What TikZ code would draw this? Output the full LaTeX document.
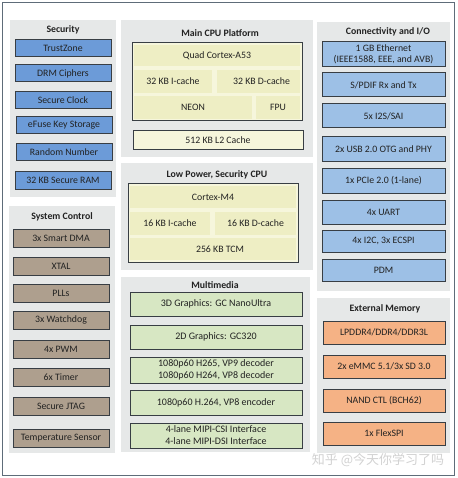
\documentclass[tikz,border=0pt]{standalone}
\usepackage{fontspec}
\setmainfont{Carlito}
\newfontfamily\cjk{Noto Sans CJK SC}
\definecolor{panelc}{HTML}{E6E8E8}
\definecolor{bordc}{HTML}{383E44}
\definecolor{txt}{HTML}{222222}
\definecolor{secblue}{HTML}{6C9BD8}
\definecolor{conblue}{HTML}{9DC0E6}
\definecolor{brownc}{HTML}{AE9F8E}
\definecolor{greenc}{HTML}{D7E7C3}
\definecolor{orangec}{HTML}{F5B285}
\definecolor{yelbg}{HTML}{F6F6DC}
\definecolor{yelcell}{HTML}{EEEEC4}
\definecolor{outerc}{HTML}{5E6C79}
\definecolor{wmark}{HTML}{D2D2D2}
\begin{document}
\begin{tikzpicture}[x=1pt,y=-1pt,
  every node/.style={font=\fontsize{9.8}{11.5}\selectfont, text=txt, inner sep=0pt, align=center},
  panel/.style={fill=panelc, draw=none},
  ptitle/.style={font=\bfseries\fontsize{9.8}{11.5}\selectfont},
  blk/.style={draw=bordc, line width=1pt},
  secbox/.style={blk, fill=secblue, minimum width=96pt, minimum height=17pt},
  sysbox/.style={blk, fill=brownc, minimum width=96pt, minimum height=18pt},
  conbox/.style={blk, fill=conblue, minimum width=123pt},
  membox/.style={blk, fill=orangec, minimum width=122pt, minimum height=23pt},
  mmbox/.style={blk, fill=greenc, minimum width=172pt, font=\fontsize{10}{12}\selectfont},
  cpubox/.style={blk, fill=yelbg, minimum width=170pt},
  cell/.style={fill=yelcell, draw=none}
]
\useasboundingbox (0,0) rectangle (457,478);
\fill[white] (0,0) rectangle (457,478);
\draw[outerc, line width=1.6pt] (2.5,2.5) rectangle (454.5,475.5);

% ---------- Security
\node[panel, minimum width=106pt, minimum height=177pt] (secP) at (63,108.5) {};
\node[ptitle] (secT) at (63,30) {Security};
\node[secbox] (tz)  at (63,48.5)  {TrustZone};
\node[secbox] (drm) at (63,73.5)  {DRM Ciphers};
\node[secbox] (sclk) at (63,100.5) {Secure Clock};
\node[secbox] (efuse) at (64,125.5) {eFuse Key Storage};
\node[secbox] (rnd) at (64,152.5) {Random Number};
\node[secbox] (sram) at (63,180.5) {32 KB Secure RAM};

% ---------- System Control
\node[panel, minimum width=106pt, minimum height=247pt] (sysP) at (62,329.5) {};
\node[ptitle] (sysT) at (62,217) {System Control};
\node[sysbox] (dma)  at (61,238)   {3x Smart DMA};
\node[sysbox] (xtal) at (61,266)   {XTAL};
\node[sysbox] (pll)  at (61,293)   {PLLs};
\node[sysbox] (wdog) at (61,320)   {3x Watchdog};
\node[sysbox] (pwm)  at (61,349)   {4x PWM};
\node[sysbox] (tmr)  at (61,377.5) {6x Timer};
\node[sysbox] (jtag) at (61,406.5) {Secure JTAG};
\node[sysbox] (temp) at (61,438)   {Temperature Sensor};

% ---------- Main CPU Platform
\node[panel, minimum width=192pt, minimum height=137pt] (cpuP) at (217,88.5) {};
\node[ptitle] (cpuT) at (220,33) {Main CPU Platform};
\node[cpubox, minimum height=78pt] (a53) at (217,82) {};
\node[cell, minimum width=166pt, minimum height=21pt] (quad) at (217,55.5) {Quad Cortex-A53};
\node[cell, minimum width=78pt, minimum height=23pt] (ic) at (173,81.5) {32 KB I-cache};
\node[cell, minimum width=83pt, minimum height=23pt] (dc) at (258.5,81.5) {\hspace*{6pt}32 KB D-cache};
\node[cell, minimum width=118pt, minimum height=23pt] (neon) at (193,107.5) {NEON};
\node[cell, minimum width=44pt, minimum height=23pt] (fpu) at (278,107.5) {FPU};
\node[cpubox, minimum height=19pt] (l2) at (218,140.5) {512 KB L2 Cache};

% ---------- Low Power, Security CPU
\node[panel, minimum width=192pt, minimum height=107pt] (lpP) at (217,216.5) {};
\node[ptitle] (lpT) at (217,175) {Low Power, Security CPU};
\node[cpubox, minimum height=78pt] (m4) at (213,223) {};
\node[cell, minimum width=166pt, minimum height=22pt] (cm4) at (213,197) {Cortex-M4};
\node[cell, minimum width=80pt, minimum height=23pt] (ic2) at (170,223.5) {16 KB I-cache};
\node[cell, minimum width=81pt, minimum height=23pt] (dc2) at (255.5,223.5) {16 KB D-cache};
\node[cell, minimum width=166pt, minimum height=22pt] (tcm) at (213,249) {\hspace*{14pt}256 KB TCM};

% ---------- Multimedia
\node[panel, minimum width=189pt, minimum height=175pt] (mmP) at (215.5,364.5) {};
\node[ptitle] (mmT) at (215,285) {Multimedia};
\node[mmbox, minimum height=24pt] (g3d) at (216,304)   {3D Graphics: GC NanoUltra};
\node[mmbox, minimum height=24pt] (g2d) at (216,337)   {2D Graphics: GC320};
\node[mmbox, minimum height=26pt] (vdec) at (216,370)  {1080p60 H265, VP9 decoder\\1080p60 H264, VP8 decoder};
\node[mmbox, minimum height=25pt] (venc) at (216,402.5) {1080p60 H.264, VP8 encoder};
\node[mmbox, minimum height=25pt] (mipi) at (216,435.5) {4-lane MIPI-CSI Interface\\4-lane MIPI-DSI Interface};

% ---------- Connectivity and I/O
\node[panel, minimum width=133pt, minimum height=269pt] (conP) at (383.5,156.5) {};
\node[ptitle] (conT) at (388,32) {Connectivity and I/O};
\node[conbox, minimum height=25pt] (eth)  at (383.5,54.5) {1 GB Ethernet\\(IEEE1588, EEE, and AVB)};
\node[conbox, minimum height=24pt] (spdif) at (383.5,85)  {S/PDIF Rx and Tx};
\node[conbox, minimum height=24pt] (i2s)  at (383.5,116)  {5x I2S/SAI};
\node[conbox, minimum height=25pt] (usb)  at (383.5,149.5) {2x USB 2.0 OTG and PHY};
\node[conbox, minimum height=24pt] (pcie) at (383.5,181)  {1x PCIe 2.0 (1-lane)};
\node[conbox, minimum height=24pt] (uart) at (383.5,212)  {4x UART};
\node[conbox, minimum height=22pt] (i2c)  at (383.5,241)  {4x I2C, 3x ECSPI};
\node[conbox, minimum height=22pt] (pdm)  at (383.5,270)  {PDM};

% ---------- External Memory
\node[panel, minimum width=133pt, minimum height=155pt] (memP) at (383.5,375.5) {};
\node[ptitle] (memT) at (385,309) {External Memory};
\node[membox] (ddr)  at (384,332.5) {LPDDR4/DDR4/DDR3L};
\node[membox] (emmc) at (384,366.5) {2x eMMC 5.1/3x SD 3.0};
\node[membox] (nand) at (384,400.5) {NAND CTL (BCH62)};
\node[membox] (fspi) at (384,433.5) {1x FlexSPI};

% ---------- watermark
\node[font=\cjk\fontsize{13}{15}\selectfont, text=wmark] (wm) at (378,460) {知乎 @今天你学习了吗};
\end{tikzpicture}
\end{document}
